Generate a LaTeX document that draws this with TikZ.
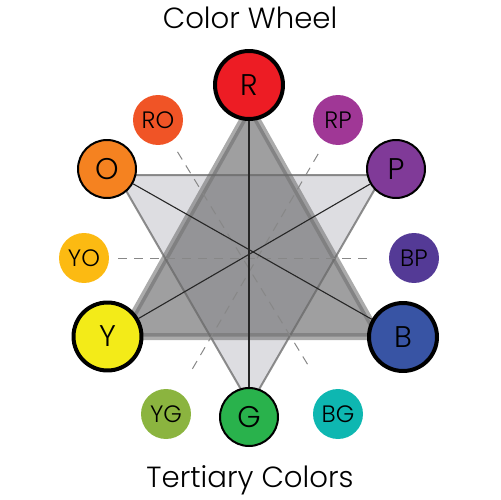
\documentclass[tikz,border=0pt]{standalone}
\usepackage{fontspec}
\IfFontExistsTF{Poppins Light}{\setmainfont{Poppins Light}}{\setmainfont{Poppins}}
\definecolor{cR}{RGB}{237,28,36}
\definecolor{cO}{RGB}{245,130,32}
\definecolor{cY}{RGB}{243,235,24}
\definecolor{cG}{RGB}{41,178,76}
\definecolor{cB}{RGB}{56,84,164}
\definecolor{cP}{RGB}{128,58,152}
\definecolor{cRO}{RGB}{240,84,38}
\definecolor{cRP}{RGB}{160,55,150}
\definecolor{cBP}{RGB}{84,58,150}
\definecolor{cBG}{RGB}{14,183,177}
\definecolor{cYG}{RGB}{139,180,63}
\definecolor{cYO}{RGB}{252,186,18}
\definecolor{lightfill}{RGB}{221,221,225}
\definecolor{darkfill}{RGB}{118,118,120}
\definecolor{darkband}{RGB}{115,115,115}
\definecolor{edgegray}{RGB}{105,105,105}
\definecolor{dashgray}{RGB}{135,135,135}
\pgfdeclarelayer{bg}
\pgfsetlayers{bg,main}
\begin{document}
\begin{tikzpicture}[x=0.02cm,y=-0.02cm,
  prim/.style={circle,draw=black,line width=0.08cm,minimum size=1.36cm,inner sep=0pt,font=\fontsize{17}{20}\selectfont},
  sec/.style={circle,draw=black,line width=0.04cm,minimum size=1.16cm,inner sep=0pt,font=\fontsize{17}{20}\selectfont},
  ter/.style={circle,minimum size=1.0cm,inner sep=0pt,font=\fontsize{13.5}{16}\selectfont},
  titlefont/.style={font=\fontsize{16.6}{20}\selectfont},
  subfont/.style={font=\fontsize{16.6}{20}\selectfont},
  dashline/.style={draw=dashgray,line width=0.02cm,dash pattern=on 0.18cm off 0.14cm},
  blackline/.style={draw=black!85,line width=0.022cm}
]
\useasboundingbox (0,0) rectangle (500,500);

\node[titlefont,anchor=base] (title) at (250,28.3) {Color Wheel};
\node[subfont,anchor=base] (subtitle) at (250,487.3) {Tertiary Colors};

\node[prim,fill=cR] (R) at (249,85) {R};
\node[prim,fill=cY] (Y) at (107.5,336.5) {Y};
\node[prim,fill=cB] (B) at (403,337) {B};
\node[sec,fill=cO] (O) at (107,169) {O};
\node[sec,fill=cP] (P) at (396,169) {P};
\node[sec,fill=cG] (G) at (249,417) {G};
\node[ter,fill=cRO] (RO) at (158,120) {RO};
\node[ter,fill=cRP] (RP) at (338,120) {RP};
\node[ter,fill=cYO] (YO) at (84,258) {YO};
\node[ter,fill=cBP] (BP) at (414,258) {BP};
\node[ter,fill=cYG] (YG) at (166,414) {YG};
\node[ter,fill=cBG] (BG) at (338,414) {BG};

\begin{pgfonlayer}{bg}
  % light triangle fill
  \fill[lightfill] (117,175) -- (383,175) -- (250,405) -- cycle;
  % dark triangle
  \draw[fill=darkfill,fill opacity=0.7,draw=darkband,draw opacity=0.6,line width=0.14cm,line join=miter]
    (250,107) -- (379,336.5) -- (121,336.5) -- cycle;
  % light triangle edges
  \draw[edgegray,draw opacity=0.75,line width=0.04cm] (117,175) -- (383,175) -- (250,405) -- cycle;
  % dashed lines
  \draw[dashline,shorten <=0.24cm,shorten >=0.54cm] (RO) -- (BG);
  \draw[dashline,shorten <=0.28cm,shorten >=0.42cm] (RP) -- (YG);
  \draw[dashline,shorten <=0.18cm,shorten >=0.36cm] (YO) -- (BP);
  % black lines
  \draw[blackline] (R) -- (G);
  \draw[blackline] (O) -- (B);
  \draw[blackline] (P) -- (Y);
\end{pgfonlayer}
\end{tikzpicture}
\end{document}
